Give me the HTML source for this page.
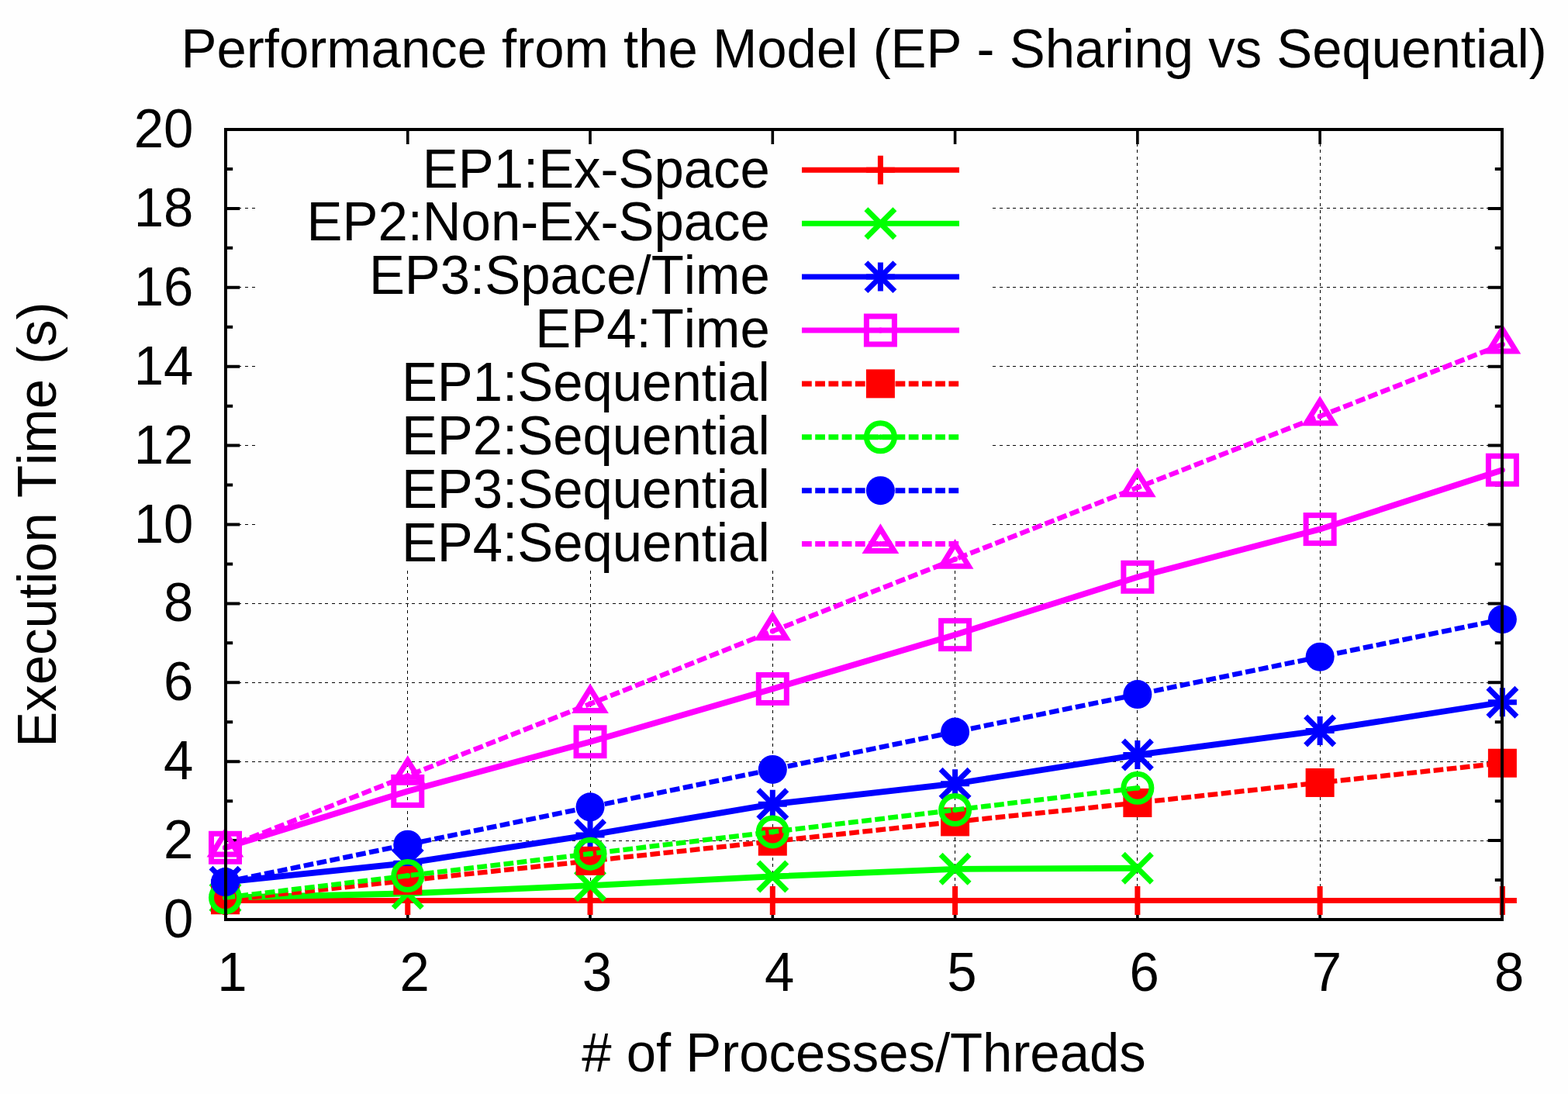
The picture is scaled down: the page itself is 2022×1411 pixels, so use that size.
<!DOCTYPE html>
<html lang="en"><head><meta charset="utf-8">
<title>Performance from the Model (EP - Sharing vs Sequential)</title>
<style>
html,body{margin:0;padding:0;background:#fefefe;}
body{width:2022px;height:1411px;overflow:hidden;}
svg{display:block;}
text{font-family:"Liberation Sans", Arial, Helvetica, sans-serif;font-size:68.9px;fill:#000;font-kerning:none;}
</style></head><body>
<svg width="2022" height="1411" viewBox="0 0 2022 1411">
<rect width="2022" height="1411" fill="#fefefe"/>
<g stroke="#000" stroke-width="1" fill="none" shape-rendering="crispEdges">
<path stroke-dasharray="4 4.61" d="M290.2 1084.5H1937"/>
<path stroke-dasharray="4 4.61" d="M290.2 982.5H1937"/>
<path stroke-dasharray="4 4.61" d="M290.2 880.5H1937"/>
<path stroke-dasharray="4 4.61" d="M290.2 778.5H1937"/>
<path stroke-dasharray="4 4.61" d="M290.2 676.5H1937"/>
<path stroke-dasharray="4 4.61" d="M290.2 574.5H1937"/>
<path stroke-dasharray="4 4.61" d="M290.2 472.5H1937"/>
<path stroke-dasharray="4 4.61" d="M290.2 370.5H1937"/>
<path stroke-dasharray="4 4.61" d="M290.2 268.5H1937"/>
<path stroke-dasharray="4 4.61" d="M525.5 1187.3V167"/>
<path stroke-dasharray="4 4.61" d="M761.5 1187.3V167"/>
<path stroke-dasharray="4 4.61" d="M996.5 1187.3V167"/>
<path stroke-dasharray="4 4.61" d="M1231.5 1187.3V167"/>
<path stroke-dasharray="4 4.61" d="M1466.5 1187.3V167"/>
<path stroke-dasharray="4 4.61" d="M1702.5 1187.3V167"/>
</g>
<rect x="330" y="160" width="947" height="576" fill="#fefefe"/>
<g stroke="#000" stroke-width="4" fill="none">
<path stroke-width="4" d="M291 1135.05h9.2M1937 1135.05h-9.2"/>
<path stroke-width="4" d="M291 1084.1h18.3M1937 1084.1h-18.3"/>
<path stroke-width="4" d="M291 1033.15h9.2M1937 1033.15h-9.2"/>
<path stroke-width="4" d="M291 982.2h18.3M1937 982.2h-18.3"/>
<path stroke-width="4" d="M291 931.25h9.2M1937 931.25h-9.2"/>
<path stroke-width="4" d="M291 880.3h18.3M1937 880.3h-18.3"/>
<path stroke-width="4" d="M291 829.35h9.2M1937 829.35h-9.2"/>
<path stroke-width="4" d="M291 778.4h18.3M1937 778.4h-18.3"/>
<path stroke-width="4" d="M291 727.45h9.2M1937 727.45h-9.2"/>
<path stroke-width="4" d="M291 676.5h18.3M1937 676.5h-18.3"/>
<path stroke-width="4" d="M291 625.55h9.2M1937 625.55h-9.2"/>
<path stroke-width="4" d="M291 574.6h18.3M1937 574.6h-18.3"/>
<path stroke-width="4" d="M291 523.65h9.2M1937 523.65h-9.2"/>
<path stroke-width="4" d="M291 472.7h18.3M1937 472.7h-18.3"/>
<path stroke-width="4" d="M291 421.75h9.2M1937 421.75h-9.2"/>
<path stroke-width="4" d="M291 370.8h18.3M1937 370.8h-18.3"/>
<path stroke-width="4" d="M291 319.85h9.2M1937 319.85h-9.2"/>
<path stroke-width="4" d="M291 268.9h18.3M1937 268.9h-18.3"/>
<path stroke-width="4" d="M291 217.95h9.2M1937 217.95h-9.2"/>
<path stroke-width="3.6" d="M525.77 1186v-19M525.77 167v19"/>
<path stroke-width="3.6" d="M761.04 1186v-19M761.04 167v19"/>
<path stroke-width="3.6" d="M996.31 1186v-19M996.31 167v19"/>
<path stroke-width="3.6" d="M1231.59 1186v-19M1231.59 167v19"/>
<path stroke-width="3.6" d="M1466.86 1186v-19M1466.86 167v19"/>
<path stroke-width="3.6" d="M1702.13 1186v-19M1702.13 167v19"/>
</g>
<g>
<polyline fill="none" stroke="#ff0000" stroke-width="7" points="290.5,1161.54 525.77,1161.54 761.04,1161.54 996.31,1161.54 1231.59,1161.54 1466.86,1161.54 1702.13,1161.54 1937.4,1161.54"/>
<path stroke="#ff0000" stroke-width="7" fill="none" d="M272 1161.54H309M290.5 1143.04V1180.04"/>
<path stroke="#ff0000" stroke-width="7" fill="none" d="M507.27 1161.54H544.27M525.77 1143.04V1180.04"/>
<path stroke="#ff0000" stroke-width="7" fill="none" d="M742.54 1161.54H779.54M761.04 1143.04V1180.04"/>
<path stroke="#ff0000" stroke-width="7" fill="none" d="M977.81 1161.54H1014.81M996.31 1143.04V1180.04"/>
<path stroke="#ff0000" stroke-width="7" fill="none" d="M1213.09 1161.54H1250.09M1231.59 1143.04V1180.04"/>
<path stroke="#ff0000" stroke-width="7" fill="none" d="M1448.36 1161.54H1485.36M1466.86 1143.04V1180.04"/>
<path stroke="#ff0000" stroke-width="7" fill="none" d="M1683.63 1161.54H1720.63M1702.13 1143.04V1180.04"/>
<path stroke="#ff0000" stroke-width="7" fill="none" d="M1918.9 1161.54H1955.9M1937.4 1143.04V1180.04"/>
</g>
<g>
<polyline fill="none" stroke="#00ff00" stroke-width="7.8" points="290.5,1157.72 525.77,1152.37 761.04,1142.18 996.31,1130.46 1231.59,1120.78 1466.86,1119.77"/>
<path stroke="#00ff00" stroke-width="7" fill="none" d="M272 1139.22L309 1176.22M272 1176.22L309 1139.22"/>
<path stroke="#00ff00" stroke-width="7" fill="none" d="M507.27 1133.87L544.27 1170.87M507.27 1170.87L544.27 1133.87"/>
<path stroke="#00ff00" stroke-width="7" fill="none" d="M742.54 1123.68L779.54 1160.68M742.54 1160.68L779.54 1123.68"/>
<path stroke="#00ff00" stroke-width="7" fill="none" d="M977.81 1111.96L1014.81 1148.96M977.81 1148.96L1014.81 1111.96"/>
<path stroke="#00ff00" stroke-width="7" fill="none" d="M1213.09 1102.28L1250.09 1139.28M1213.09 1139.28L1250.09 1102.28"/>
<path stroke="#00ff00" stroke-width="7" fill="none" d="M1448.36 1101.27L1485.36 1138.27M1448.36 1138.27L1485.36 1101.27"/>
</g>
<g>
<polyline fill="none" stroke="#0000ff" stroke-width="7.8" points="290.5,1137.6 525.77,1113.14 761.04,1076.97 996.31,1037.23 1231.59,1010.73 1466.86,973.54 1702.13,942.46 1937.4,905.77"/>
<path stroke="#0000ff" stroke-width="7" fill="none" d="M272 1137.6H309M290.5 1119.1V1156.1"/><path stroke="#0000ff" stroke-width="7" fill="none" d="M272 1119.1L309 1156.1M272 1156.1L309 1119.1"/>
<path stroke="#0000ff" stroke-width="7" fill="none" d="M507.27 1113.14H544.27M525.77 1094.64V1131.64"/><path stroke="#0000ff" stroke-width="7" fill="none" d="M507.27 1094.64L544.27 1131.64M507.27 1131.64L544.27 1094.64"/>
<path stroke="#0000ff" stroke-width="7" fill="none" d="M742.54 1076.97H779.54M761.04 1058.47V1095.47"/><path stroke="#0000ff" stroke-width="7" fill="none" d="M742.54 1058.47L779.54 1095.47M742.54 1095.47L779.54 1058.47"/>
<path stroke="#0000ff" stroke-width="7" fill="none" d="M977.81 1037.23H1014.81M996.31 1018.73V1055.73"/><path stroke="#0000ff" stroke-width="7" fill="none" d="M977.81 1018.73L1014.81 1055.73M977.81 1055.73L1014.81 1018.73"/>
<path stroke="#0000ff" stroke-width="7" fill="none" d="M1213.09 1010.73H1250.09M1231.59 992.23V1029.23"/><path stroke="#0000ff" stroke-width="7" fill="none" d="M1213.09 992.23L1250.09 1029.23M1213.09 1029.23L1250.09 992.23"/>
<path stroke="#0000ff" stroke-width="7" fill="none" d="M1448.36 973.54H1485.36M1466.86 955.04V992.04"/><path stroke="#0000ff" stroke-width="7" fill="none" d="M1448.36 955.04L1485.36 992.04M1448.36 992.04L1485.36 955.04"/>
<path stroke="#0000ff" stroke-width="7" fill="none" d="M1683.63 942.46H1720.63M1702.13 923.96V960.96"/><path stroke="#0000ff" stroke-width="7" fill="none" d="M1683.63 923.96L1720.63 960.96M1683.63 960.96L1720.63 923.96"/>
<path stroke="#0000ff" stroke-width="7" fill="none" d="M1918.9 905.77H1955.9M1937.4 887.27V924.27"/><path stroke="#0000ff" stroke-width="7" fill="none" d="M1918.9 887.27L1955.9 924.27M1918.9 924.27L1955.9 887.27"/>
</g>
<g>
<polyline fill="none" stroke="#ff00ff" stroke-width="7.8" points="290.5,1093.27 525.77,1020.41 761.04,956.73 996.31,888.45 1231.59,818.65 1466.86,744.26 1702.13,682.61 1937.4,606.19"/>
<rect stroke="#ff00ff" stroke-width="7" fill="none" x="272.5" y="1075.27" width="36" height="36"/><circle fill="#ff00ff" cx="290.5" cy="1093.27" r="3.5"/>
<rect stroke="#ff00ff" stroke-width="7" fill="none" x="507.77" y="1002.41" width="36" height="36"/><circle fill="#ff00ff" cx="525.77" cy="1020.41" r="3.5"/>
<rect stroke="#ff00ff" stroke-width="7" fill="none" x="743.04" y="938.73" width="36" height="36"/><circle fill="#ff00ff" cx="761.04" cy="956.73" r="3.5"/>
<rect stroke="#ff00ff" stroke-width="7" fill="none" x="978.31" y="870.45" width="36" height="36"/><circle fill="#ff00ff" cx="996.31" cy="888.45" r="3.5"/>
<rect stroke="#ff00ff" stroke-width="7" fill="none" x="1213.59" y="800.65" width="36" height="36"/><circle fill="#ff00ff" cx="1231.59" cy="818.65" r="3.5"/>
<rect stroke="#ff00ff" stroke-width="7" fill="none" x="1448.86" y="726.26" width="36" height="36"/><circle fill="#ff00ff" cx="1466.86" cy="744.26" r="3.5"/>
<rect stroke="#ff00ff" stroke-width="7" fill="none" x="1684.13" y="664.61" width="36" height="36"/><circle fill="#ff00ff" cx="1702.13" cy="682.61" r="3.5"/>
<rect stroke="#ff00ff" stroke-width="7" fill="none" x="1919.4" y="588.19" width="36" height="36"/><circle fill="#ff00ff" cx="1937.4" cy="606.19" r="3.5"/>
</g>
<g>
<polyline fill="none" stroke="#ff0000" stroke-width="6.3" stroke-dasharray="12.75 4.47" points="290.5,1160.78 525.77,1135.56 761.04,1110.34 996.31,1085.12 1231.59,1059.9 1466.86,1035.44 1702.13,1009.46 1937.4,984.24"/>
<rect fill="#ff0000" x="272" y="1142.28" width="37" height="37"/>
<rect fill="#ff0000" x="507.27" y="1117.06" width="37" height="37"/>
<rect fill="#ff0000" x="742.54" y="1091.84" width="37" height="37"/>
<rect fill="#ff0000" x="977.81" y="1066.62" width="37" height="37"/>
<rect fill="#ff0000" x="1213.09" y="1041.4" width="37" height="37"/>
<rect fill="#ff0000" x="1448.36" y="1016.94" width="37" height="37"/>
<rect fill="#ff0000" x="1683.63" y="990.96" width="37" height="37"/>
<rect fill="#ff0000" x="1918.9" y="965.74" width="37" height="37"/>
</g>
<g>
<polyline fill="none" stroke="#00ff00" stroke-width="6.3" stroke-dasharray="12.75 4.47" points="290.5,1157.72 525.77,1129.45 761.04,1101.17 996.31,1072.89 1231.59,1044.61 1466.86,1016.34"/>
<circle stroke="#00ff00" stroke-width="7" fill="none" cx="290.5" cy="1157.72" r="18"/><circle fill="#00ff00" cx="290.5" cy="1157.72" r="3.5"/>
<circle stroke="#00ff00" stroke-width="7" fill="none" cx="525.77" cy="1129.45" r="18"/><circle fill="#00ff00" cx="525.77" cy="1129.45" r="3.5"/>
<circle stroke="#00ff00" stroke-width="7" fill="none" cx="761.04" cy="1101.17" r="18"/><circle fill="#00ff00" cx="761.04" cy="1101.17" r="3.5"/>
<circle stroke="#00ff00" stroke-width="7" fill="none" cx="996.31" cy="1072.89" r="18"/><circle fill="#00ff00" cx="996.31" cy="1072.89" r="3.5"/>
<circle stroke="#00ff00" stroke-width="7" fill="none" cx="1231.59" cy="1044.61" r="18"/><circle fill="#00ff00" cx="1231.59" cy="1044.61" r="3.5"/>
<circle stroke="#00ff00" stroke-width="7" fill="none" cx="1466.86" cy="1016.34" r="18"/><circle fill="#00ff00" cx="1466.86" cy="1016.34" r="3.5"/>
</g>
<g>
<polyline fill="none" stroke="#0000ff" stroke-width="6.3" stroke-dasharray="12.75 4.47" points="290.5,1137.6 525.77,1089.19 761.04,1040.79 996.31,992.39 1231.59,943.99 1466.86,895.59 1702.13,847.18 1937.4,798.78"/>
<circle fill="#0000ff" cx="290.5" cy="1137.6" r="18.5"/>
<circle fill="#0000ff" cx="525.77" cy="1089.19" r="18.5"/>
<circle fill="#0000ff" cx="761.04" cy="1040.79" r="18.5"/>
<circle fill="#0000ff" cx="996.31" cy="992.39" r="18.5"/>
<circle fill="#0000ff" cx="1231.59" cy="943.99" r="18.5"/>
<circle fill="#0000ff" cx="1466.86" cy="895.59" r="18.5"/>
<circle fill="#0000ff" cx="1702.13" cy="847.18" r="18.5"/>
<circle fill="#0000ff" cx="1937.4" cy="798.78" r="18.5"/>
</g>
<g>
<polyline fill="none" stroke="#ff00ff" stroke-width="6.3" stroke-dasharray="12.75 4.47" points="290.5,1093.27 525.77,1000.54 761.04,907.81 996.31,814.07 1231.59,721.34 1466.86,628.86 1702.13,536.9 1937.4,444.17"/>
<path stroke="#ff00ff" stroke-width="7" fill="none" stroke-miterlimit="10" d="M290.5 1073.56L272.9 1102.07H308.1Z"/><circle fill="#ff00ff" cx="290.5" cy="1093.27" r="3.5"/>
<path stroke="#ff00ff" stroke-width="7" fill="none" stroke-miterlimit="10" d="M525.77 980.83L508.17 1009.34H543.37Z"/><circle fill="#ff00ff" cx="525.77" cy="1000.54" r="3.5"/>
<path stroke="#ff00ff" stroke-width="7" fill="none" stroke-miterlimit="10" d="M761.04 888.1L743.44 916.61H778.64Z"/><circle fill="#ff00ff" cx="761.04" cy="907.81" r="3.5"/>
<path stroke="#ff00ff" stroke-width="7" fill="none" stroke-miterlimit="10" d="M996.31 794.35L978.71 822.87H1013.91Z"/><circle fill="#ff00ff" cx="996.31" cy="814.07" r="3.5"/>
<path stroke="#ff00ff" stroke-width="7" fill="none" stroke-miterlimit="10" d="M1231.59 701.62L1213.99 730.14H1249.19Z"/><circle fill="#ff00ff" cx="1231.59" cy="721.34" r="3.5"/>
<path stroke="#ff00ff" stroke-width="7" fill="none" stroke-miterlimit="10" d="M1466.86 609.15L1449.26 637.66H1484.46Z"/><circle fill="#ff00ff" cx="1466.86" cy="628.86" r="3.5"/>
<path stroke="#ff00ff" stroke-width="7" fill="none" stroke-miterlimit="10" d="M1702.13 517.19L1684.53 545.7H1719.73Z"/><circle fill="#ff00ff" cx="1702.13" cy="536.9" r="3.5"/>
<path stroke="#ff00ff" stroke-width="7" fill="none" stroke-miterlimit="10" d="M1937.4 424.46L1919.8 452.97H1955Z"/><circle fill="#ff00ff" cx="1937.4" cy="444.17" r="3.5"/>
</g>
<g>
<text transform="translate(992.8 241.5) scale(1 1.02)" text-anchor="end">EP1:Ex-Space</text>
<path fill="none" stroke="#ff0000" stroke-width="7" d="M1034 219.3H1237"/>
<path stroke="#ff0000" stroke-width="7" fill="none" d="M1116.9 219.3H1153.9M1135.4 200.8V237.8"/>
</g>
<g>
<text transform="translate(992.8 310.4) scale(1 1.02)" text-anchor="end">EP2:Non-Ex-Space</text>
<path fill="none" stroke="#00ff00" stroke-width="7" d="M1034 288.2H1237"/>
<path stroke="#00ff00" stroke-width="7" fill="none" d="M1116.9 269.7L1153.9 306.7M1116.9 306.7L1153.9 269.7"/>
</g>
<g>
<text transform="translate(992.8 379.3) scale(1 1.02)" text-anchor="end">EP3:Space/Time</text>
<path fill="none" stroke="#0000ff" stroke-width="7" d="M1034 357.1H1237"/>
<path stroke="#0000ff" stroke-width="7" fill="none" d="M1116.9 357.1H1153.9M1135.4 338.6V375.6"/><path stroke="#0000ff" stroke-width="7" fill="none" d="M1116.9 338.6L1153.9 375.6M1116.9 375.6L1153.9 338.6"/>
</g>
<g>
<text transform="translate(992.8 448.2) scale(1 1.02)" text-anchor="end">EP4:Time</text>
<path fill="none" stroke="#ff00ff" stroke-width="7" d="M1034 426H1237"/>
<rect stroke="#ff00ff" stroke-width="7" fill="none" x="1117.4" y="408" width="36" height="36"/><circle fill="#ff00ff" cx="1135.4" cy="426" r="3.5"/>
</g>
<g>
<text transform="translate(992.8 517.1) scale(1 1.02)" text-anchor="end">EP1:Sequential</text>
<path fill="none" stroke="#ff0000" stroke-width="7" stroke-dasharray="12.75 4.47" d="M1034 494.9H1237"/>
<rect fill="#ff0000" x="1116.9" y="476.4" width="37" height="37"/>
</g>
<g>
<text transform="translate(992.8 586) scale(1 1.02)" text-anchor="end">EP2:Sequential</text>
<path fill="none" stroke="#00ff00" stroke-width="7" stroke-dasharray="12.75 4.47" d="M1034 563.8H1237"/>
<circle stroke="#00ff00" stroke-width="7" fill="none" cx="1135.4" cy="563.8" r="18"/><circle fill="#00ff00" cx="1135.4" cy="563.8" r="3.5"/>
</g>
<g>
<text transform="translate(992.8 654.9) scale(1 1.02)" text-anchor="end">EP3:Sequential</text>
<path fill="none" stroke="#0000ff" stroke-width="7" stroke-dasharray="12.75 4.47" d="M1034 632.7H1237"/>
<circle fill="#0000ff" cx="1135.4" cy="632.7" r="18.5"/>
</g>
<g>
<text transform="translate(992.8 723.8) scale(1 1.02)" text-anchor="end">EP4:Sequential</text>
<path fill="none" stroke="#ff00ff" stroke-width="7" stroke-dasharray="12.75 4.47" d="M1034 701.6H1237"/>
<path stroke="#ff00ff" stroke-width="7" fill="none" stroke-miterlimit="10" d="M1135.4 681.89L1117.8 710.4H1153Z"/><circle fill="#ff00ff" cx="1135.4" cy="701.6" r="3.5"/>
</g>
<rect x="291" y="167" width="1646" height="1019" fill="none" stroke="#000" stroke-width="4" shape-rendering="crispEdges"/>
<text transform="translate(1114.2 86.9) scale(1 1.02)" text-anchor="middle">Performance from the Model (EP - Sharing vs Sequential)</text>
<text transform="translate(249.3 1209) scale(1 1.03)" text-anchor="end">0</text>
<text transform="translate(249.3 1107.1) scale(1 1.03)" text-anchor="end">2</text>
<text transform="translate(249.3 1005.2) scale(1 1.03)" text-anchor="end">4</text>
<text transform="translate(249.3 903.3) scale(1 1.03)" text-anchor="end">6</text>
<text transform="translate(249.3 801.4) scale(1 1.03)" text-anchor="end">8</text>
<text transform="translate(249.3 699.5) scale(1 1.03)" text-anchor="end">10</text>
<text transform="translate(249.3 597.6) scale(1 1.03)" text-anchor="end">12</text>
<text transform="translate(249.3 495.7) scale(1 1.03)" text-anchor="end">14</text>
<text transform="translate(249.3 393.8) scale(1 1.03)" text-anchor="end">16</text>
<text transform="translate(249.3 291.9) scale(1 1.03)" text-anchor="end">18</text>
<text transform="translate(249.3 190) scale(1 1.03)" text-anchor="end">20</text>
<text transform="translate(299.3 1278) scale(1 1.03)" text-anchor="middle">1</text>
<text transform="translate(534.57 1278) scale(1 1.03)" text-anchor="middle">2</text>
<text transform="translate(769.84 1278) scale(1 1.03)" text-anchor="middle">3</text>
<text transform="translate(1005.11 1278) scale(1 1.03)" text-anchor="middle">4</text>
<text transform="translate(1240.39 1278) scale(1 1.03)" text-anchor="middle">5</text>
<text transform="translate(1475.66 1278) scale(1 1.03)" text-anchor="middle">6</text>
<text transform="translate(1710.93 1278) scale(1 1.03)" text-anchor="middle">7</text>
<text transform="translate(1946.2 1278) scale(1 1.03)" text-anchor="middle">8</text>
<text transform="translate(1114 1381.6) scale(1 1.02)" text-anchor="middle"># of Processes/Threads</text>
<text transform="translate(72.1 676.6) rotate(-90) scale(1 1.02)" text-anchor="middle">Execution Time (s)</text>
</svg>
</body></html>
